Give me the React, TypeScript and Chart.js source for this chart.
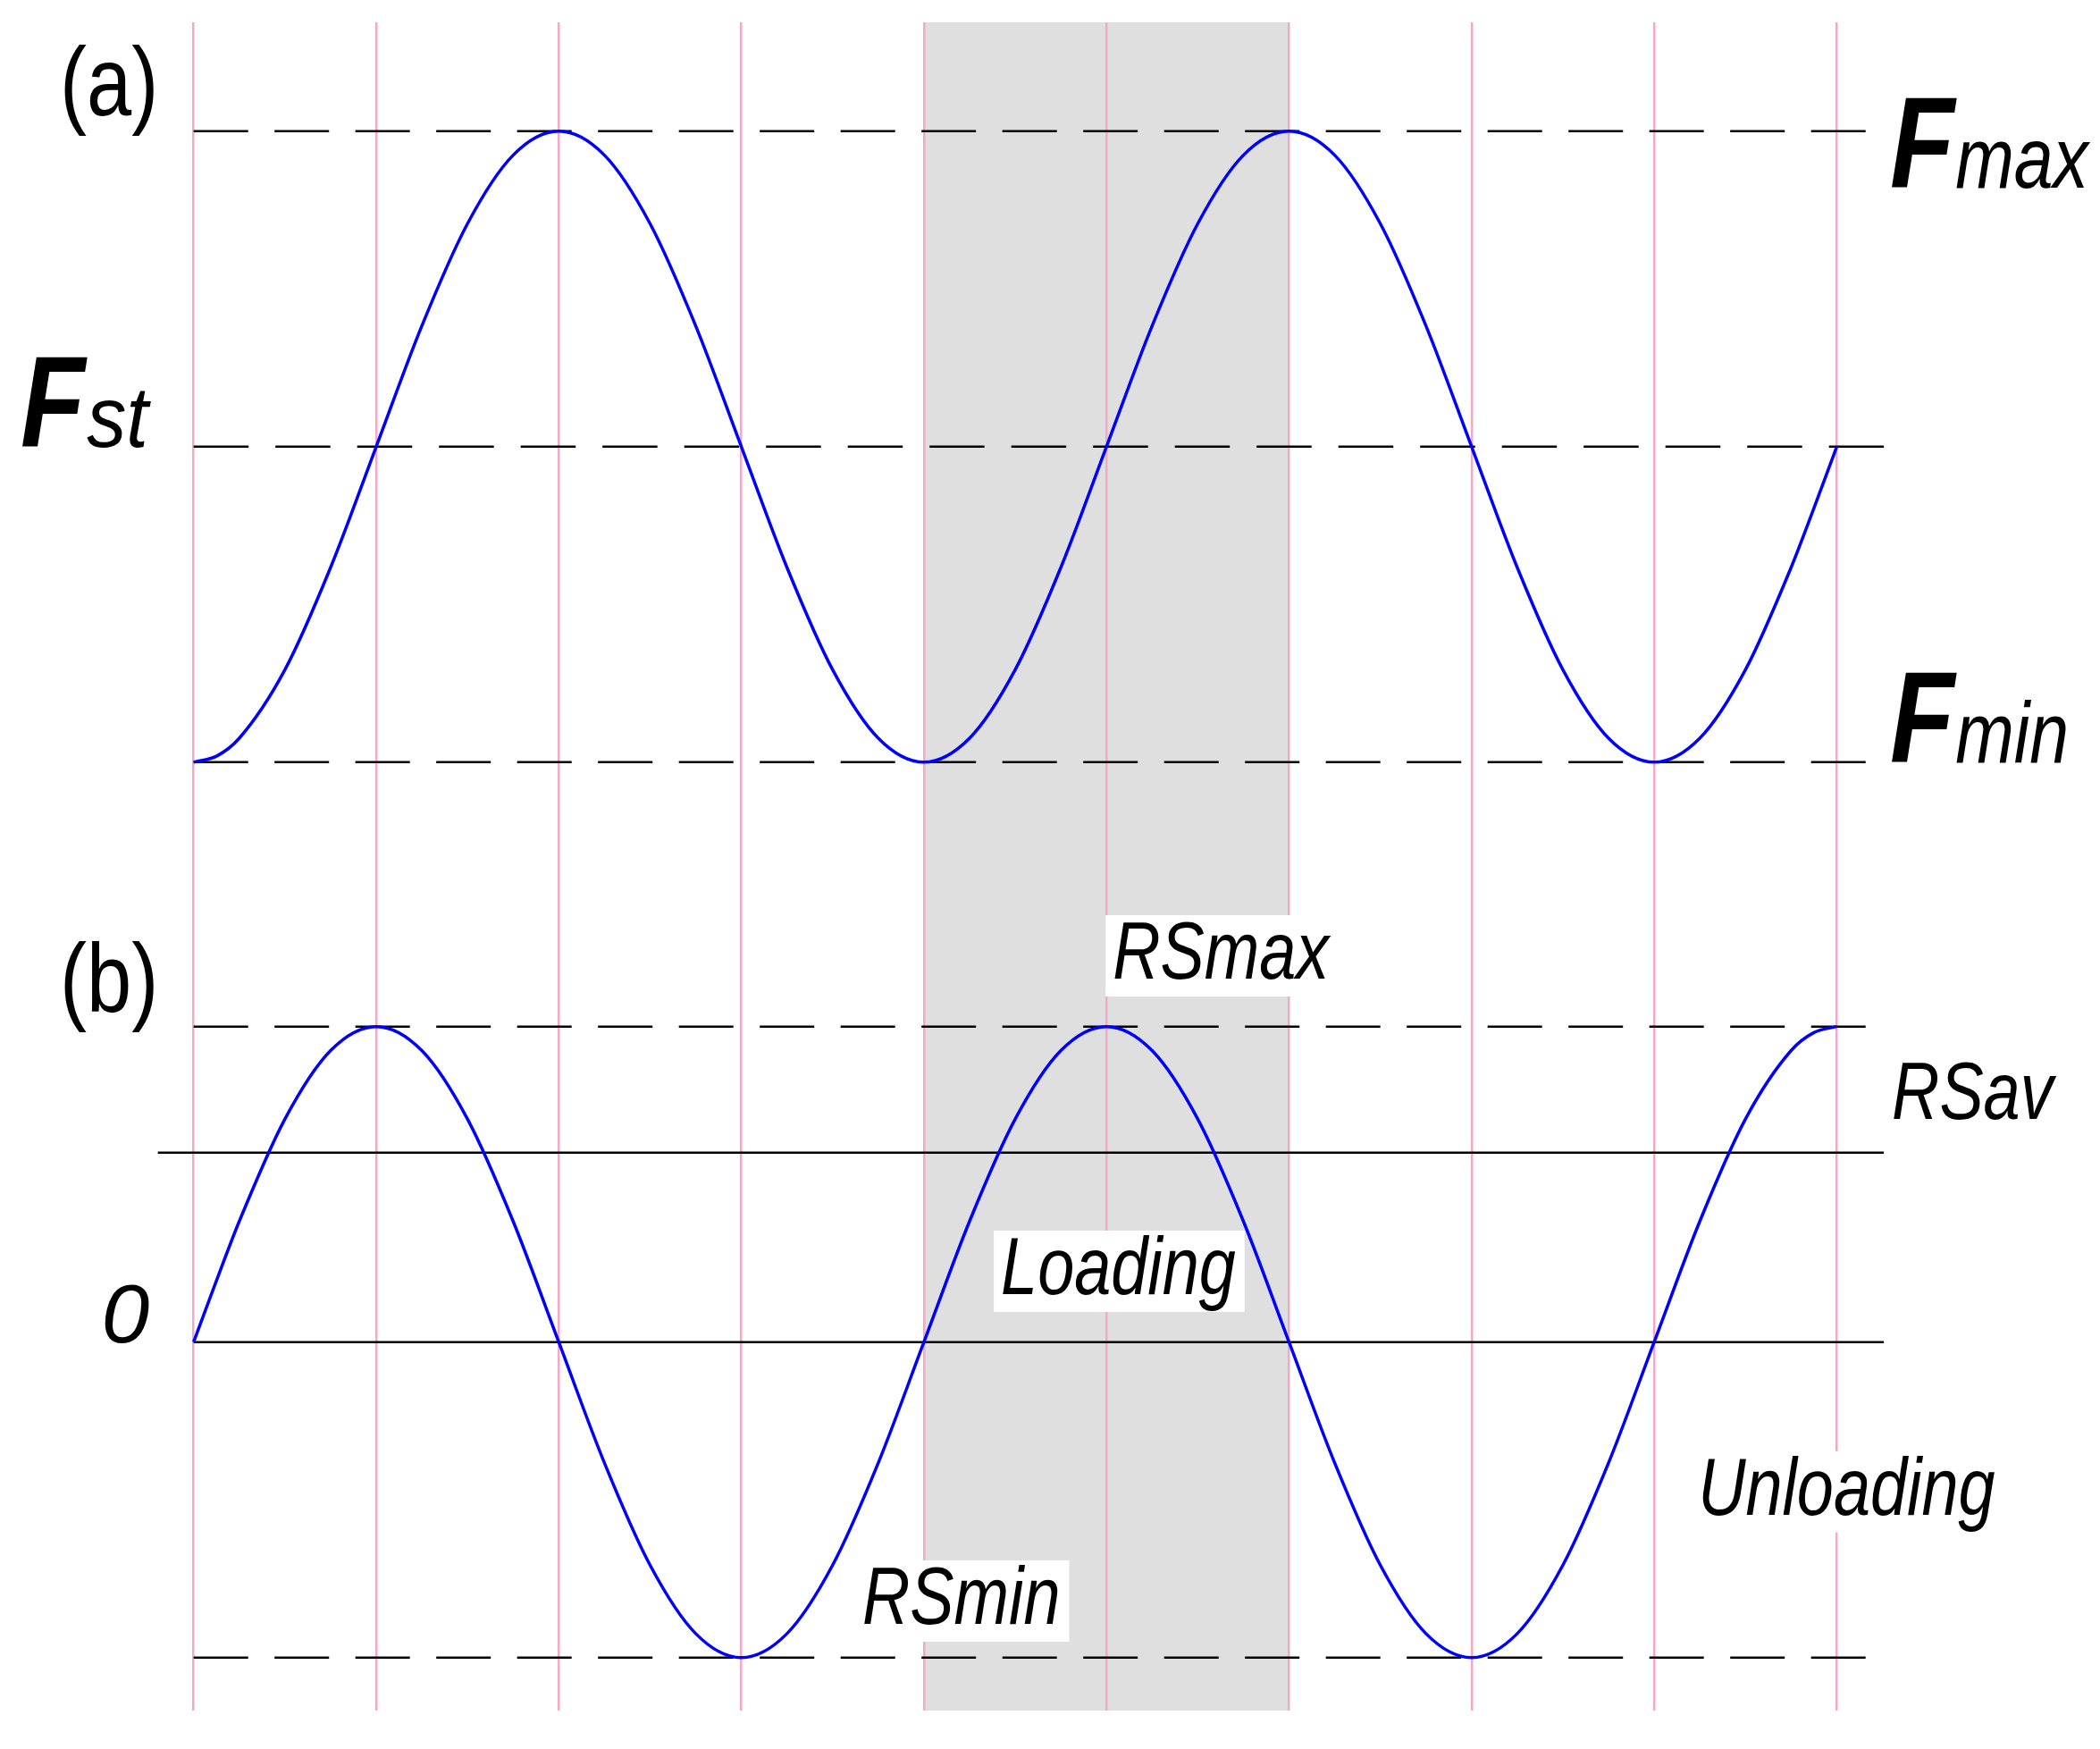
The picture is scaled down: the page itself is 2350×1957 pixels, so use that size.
import React, { useEffect, useRef } from "react";
import { Chart, registerables } from "chart.js";

Chart.register(...registerables);

// ---------- data ----------
// phase positions (one unit = one quarter period = distance between pink lines)
const PHASE = [
  0, 0.125, 0.25, 0.5, 0.75, 1, 1.25, 1.5, 1.75, 2, 2.25, 2.5, 2.75, 3, 3.25, 3.5, 3.75, 4,
  4.25, 4.5, 4.75, 5, 5.25, 5.5, 5.75, 6, 6.25, 6.5, 6.75, 7, 7.25, 7.5, 7.75, 8,
  8.25, 8.5, 8.75, 8.875, 9,
];
// (a) applied force, Fmin = 0, Fst = 1, Fmax = 2
const FORCE = [
  0, 0.019, 0.076, 0.293, 0.617, 1, 1.383, 1.707, 1.924, 2,
  1.924, 1.707, 1.383, 1, 0.617, 0.293, 0.076, 0,
  0.076, 0.293, 0.617, 1, 1.383, 1.707, 1.924, 2,
  1.924, 1.707, 1.383, 1, 0.617, 0.293, 0.076, 0,
  0.076, 0.293, 0.617, 0.805, 1,
];
// (b) response RS, RSmin = -1, RSmax = 1
const RS = [
  0, 0.195, 0.383, 0.707, 0.924, 1, 0.924, 0.707, 0.383, 0,
  -0.383, -0.707, -0.924, -1, -0.924, -0.707, -0.383, 0,
  0.383, 0.707, 0.924, 1, 0.924, 0.707, 0.383, 0,
  -0.383, -0.707, -0.924, -1, -0.924, -0.707, -0.383, 0,
  0.383, 0.707, 0.924, 0.981, 1,
];
const GRID_STEPS = [0, 1, 2, 3, 4, 5, 6, 7, 8, 9];
const BAND = [4, 6];

const F_MIN = 0;
const F_ST = 1;
const F_MAX = 2;
const RS_MIN = -1;
const RS_ZERO = 0;
const RS_AV = 0.6;
const RS_MAX = 1;

// ---------- layout ----------
const W = 2350;
const H = 1957;
const PANEL_A_SHIFT = 1.838; // panel (a) is drawn above panel (b) on the same value axis
const Y_MIN = -1.168;
const Y_MAX = 4.183;
const DASH_END = 9.159;
const LONG_END = 9.258;
const AV_START = -0.196;

const FAMILY = "'Liberation Sans', Arimo, 'DejaVu Sans', sans-serif";
const NARROW_SCALE = 0.82;
const FONT_PAREN = `normal 400 110px ${FAMILY}`;
const FONT_BIGF = `italic 700 144px ${FAMILY}`;
const FONT_SUB = `italic 400 96px ${FAMILY}`;
const FONT_LABEL = `italic 400 90px ${FAMILY}`;
const FONT_ZERO = `italic 400 92px ${FAMILY}`;

type Lbl = {
  text: string;
  panel: "a" | "b";
  x: number;
  y: number;
  font: string;
  box?: boolean;
  sx?: number;
};
const TEXTS: Lbl[] = [
  { text: "(a)", panel: "a", x: -0.733, y: 2.05, font: FONT_PAREN },
  { text: "F", panel: "a", x: -0.948, y: F_ST, font: FONT_BIGF },
  { text: "st", panel: "a", x: -0.585, y: F_ST, font: FONT_SUB, sx: 0.92 },
  { text: "F", panel: "a", x: 9.292, y: 1.82, font: FONT_BIGF },
  { text: "max", panel: "a", x: 9.65, y: 1.82, font: FONT_SUB },
  { text: "F", panel: "a", x: 9.292, y: F_MIN, font: FONT_BIGF },
  { text: "min", panel: "a", x: 9.65, y: F_MIN, font: FONT_SUB },
  { text: "(b)", panel: "b", x: -0.733, y: 1.047, font: FONT_PAREN },
  { text: "0", panel: "b", x: -0.505, y: RS_ZERO, font: FONT_ZERO, sx: 1.05 },
  { text: "RSmax", panel: "b", x: 5.034, y: 1.152, font: FONT_LABEL, box: true },
  { text: "RSav", panel: "b", x: 9.302, y: 0.707, font: FONT_LABEL },
  { text: "Loading", panel: "b", x: 4.422, y: 0.152, font: FONT_LABEL, box: true },
  { text: "Unloading", panel: "b", x: 8.24, y: -0.547, font: FONT_LABEL, box: true },
  { text: "RSmin", panel: "b", x: 3.663, y: -0.893, font: FONT_LABEL, box: true },
];

const BLUE = "#0000ff";
const BLACK = "#000000";
const PINK = "#f3a9c5";
const GREY = "#dfdfdf";

const bandPlugin = {
  id: "band",
  beforeDraw(chart: any) {
    const { ctx, chartArea, scales } = chart;
    const x0 = scales.x.getPixelForValue(BAND[0]);
    const x1 = scales.x.getPixelForValue(BAND[1]);
    ctx.save();
    ctx.fillStyle = GREY;
    ctx.fillRect(x0, chartArea.top, x1 - x0, chartArea.bottom - chartArea.top);
    ctx.restore();
  },
};

const textPlugin = {
  id: "texts",
  afterDraw(chart: any) {
    const { ctx, scales } = chart;
    for (const t of TEXTS) {
      const px = scales.x.getPixelForValue(t.x);
      const py = scales.y.getPixelForValue(t.panel === "a" ? t.y + PANEL_A_SHIFT : t.y);
      const sx = t.sx ?? NARROW_SCALE;
      ctx.save();
      ctx.textBaseline = "alphabetic";
      ctx.textAlign = "left";
      ctx.font = t.font;
      if (t.box) {
        const w = ctx.measureText(t.text).width * sx;
        ctx.fillStyle = "#ffffff";
        ctx.fillRect(px - 8, py - 71, w + 18, 91);
      }
      ctx.translate(px, py);
      ctx.scale(sx, 1);
      ctx.fillStyle = BLACK;
      ctx.fillText(t.text, 0, 0);
      ctx.restore();
    }
  },
};

function hline(y: number, x0: number, x1: number, dashed: boolean, dash?: number[]) {
  return {
    data: [
      { x: x0, y },
      { x: x1, y },
    ],
    borderColor: BLACK,
    borderWidth: 2.5,
    borderDash: dashed ? dash || [61, 29.5] : [],
    pointRadius: 0,
    clip: false as any,
    tension: 0,
  };
}

export default function App() {
  const ref = useRef<HTMLCanvasElement | null>(null);
  useEffect(() => {
    if (!ref.current) return;
    const curveA = PHASE.map((x, i) => ({ x, y: FORCE[i] + PANEL_A_SHIFT }));
    const curveB = PHASE.map((x, i) => ({ x, y: RS[i] }));
    const curve = (data: any) => ({
      data,
      borderColor: BLUE,
      borderWidth: 3.5,
      pointRadius: 0,
      cubicInterpolationMode: "monotone",
      clip: false as any,
    });
    const chart = new Chart(ref.current, {
      type: "line",
      data: {
        datasets: [
          curve(curveA),
          curve(curveB),
          hline(F_MAX + PANEL_A_SHIFT, 0, DASH_END, true),
          hline(F_ST + PANEL_A_SHIFT, 0, LONG_END, true, [61.5, 30]),
          hline(F_MIN + PANEL_A_SHIFT, 0, DASH_END, true),
          hline(RS_MAX, 0, DASH_END, true),
          hline(RS_AV, AV_START, LONG_END, false),
          hline(RS_ZERO, 0, LONG_END, false),
          hline(RS_MIN, 0, DASH_END, true),
        ] as any,
      },
      options: {
        responsive: false,
        animation: false,
        events: [],
        layout: { padding: { left: 216.7, right: W - 2055.4, top: 25, bottom: H - 1914 } },
        plugins: { legend: { display: false }, tooltip: { enabled: false }, title: { display: false } },
        scales: {
          x: {
            type: "linear",
            min: GRID_STEPS[0],
            max: GRID_STEPS[GRID_STEPS.length - 1],
            ticks: { display: false, stepSize: 1 },
            grid: { color: PINK, lineWidth: 2.5, drawTicks: false },
            border: { display: false },
          },
          y: {
            type: "linear",
            display: false,
            min: Y_MIN,
            max: Y_MAX,
          },
        },
      },
      plugins: [bandPlugin, textPlugin],
    });
    return () => chart.destroy();
  }, []);
  return (
    <div style={{ position: "absolute", left: 0, top: 0, width: W, height: H, background: "#fff" }}>
      <canvas ref={ref} width={W} height={H} style={{ display: "block", width: W, height: H }} />
    </div>
  );
}
